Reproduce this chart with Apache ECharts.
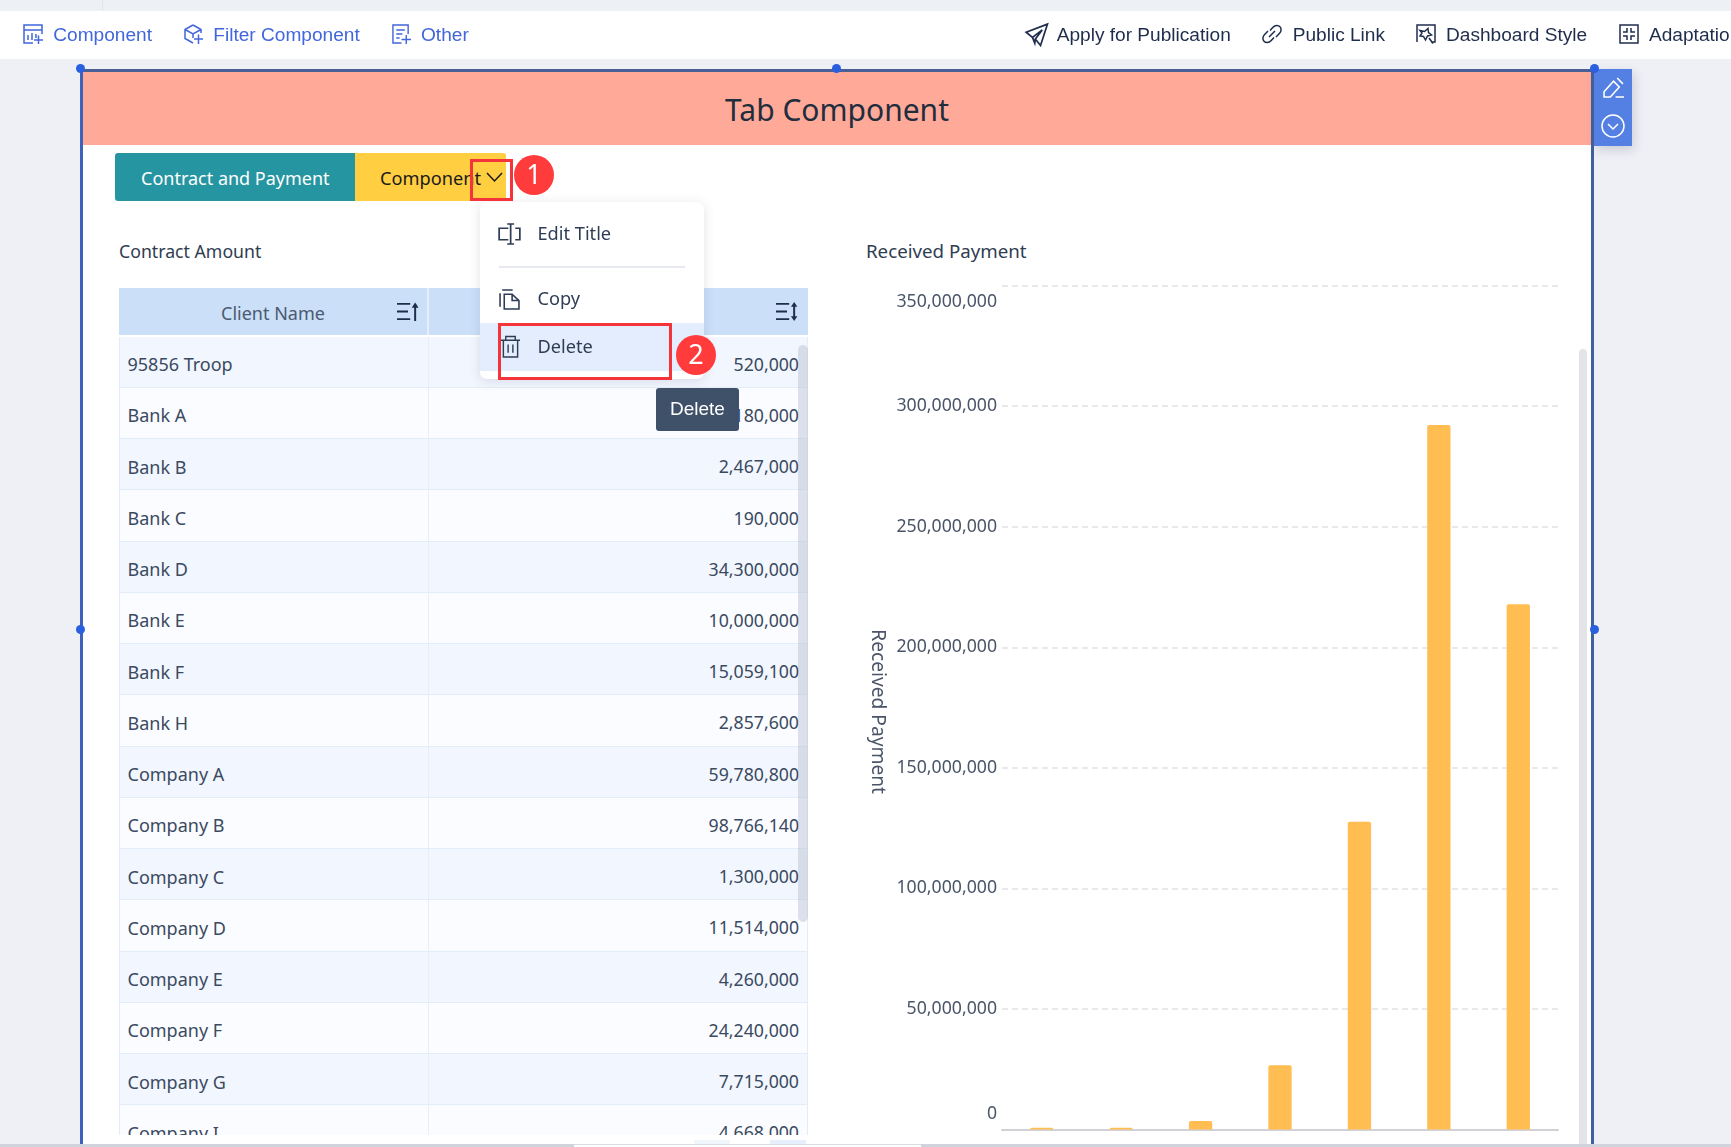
<!DOCTYPE html>
<html>
<head>
<meta charset="utf-8">
<title>Tab Component</title>
<script src="https://cdn.jsdelivr.net/npm/echarts@6/dist/echarts.min.js"></script>
<style>
  html, body { margin: 0; padding: 0; width: 1731px; height: 1147px; overflow: hidden; background: #eff0f5; }
  body { position: relative; font-family: "Noto Sans", sans-serif; font-size: 17.7px; color: #3a4a60; }
  .box, .txt, svg { position: absolute; }
  .txt { white-space: nowrap; line-height: 1; transform: translateY(-50%); }
  .tool { font-family: "Liberation Sans", sans-serif; font-size: 19.1px; color: #1f2d4d; }
  .tool.blue { color: #4266dc; }
  svg { fill: none; stroke-width: 1.5; overflow: visible; }
  #tableWrap { position: absolute; left: 119px; top: 288px; width: 690px; height: 847px; overflow: hidden; }
  .row { position: absolute; left: 0; width: 689px; box-sizing: border-box; border-bottom: 1.5px solid #e3edf9;
         border-left: 1px solid #e3edf9; border-right: 1px solid #e3edf9; }
  .row .name { position: absolute; left: 7.5px; top: calc(50% + 2.4px); transform: translateY(-50%); line-height: 1; font-size: 18px; }
  .row .amount { position: absolute; right: 8px; top: calc(50% + 3px); transform: translateY(-50%); line-height: 1; }
  .row .sep { position: absolute; left: 308px; top: 0; bottom: 0; width: 1px; background: #e6eefa; }
  .badge { position: absolute; width: 40px; height: 40px; border-radius: 50%; background: #ff3b3b; color: #fff;
           font-size: 27px; line-height: 38px; text-align: center; }
  .redrect { position: absolute; box-sizing: border-box; border: 3px solid #f5333a; }
  #chart { position: absolute; left: 0; top: 0; width: 1731px; height: 1147px; }
</style>
</head>
<body>
<div class="box" style="left:0;top:0;width:1731px;height:11px;background:#edf0f5"></div>
<div class="box" style="left:102px;top:0;width:1px;height:11px;background:#e2e5ea"></div>
<div class="box" style="left:0;top:11px;width:1731px;height:48px;background:#fff"></div>

<!-- panel -->
<div class="box" style="left:81px;top:70px;width:1513px;height:1074px;background:#fff"></div>
<div class="box" style="left:83px;top:72px;width:1508px;height:73px;background:#ffa999"></div>
<div class="box" style="left:80px;top:69px;width:3px;height:1075px;background:#3c62bb"></div>
<div class="box" style="left:1591px;top:69px;width:3px;height:1075px;background:#40619f"></div>
<div class="box" style="left:80px;top:69px;width:1514px;height:3px;background:#486096"></div>
<div class="box" style="left:1594px;top:69px;width:38px;height:77px;background:#5480e3;box-shadow:2px 4px 10px rgba(60,70,100,.2)"></div>

<div class="txt" style="left:0;width:1674px;top:110px;text-align:center;font-size:30px;color:#1f2d3d">Tab Component</div>

<!-- tabs -->
<div class="box" style="left:115px;top:153px;width:240px;height:48px;background:#2595a1;border-radius:3px 0 0 3px"></div>
<div class="box" style="left:355px;top:153px;width:151px;height:48px;background:#ffce41;border-radius:0 3px 3px 0"></div>
<div class="txt" style="left:141px;top:178px;color:#fff;font-size:18px">Contract and Payment</div>
<div class="txt" style="left:380px;top:178px;color:#1b1b1b;font-size:18.2px">Component</div>

<div class="txt" style="left:119px;top:252px;color:#2f3d52">Contract Amount</div>
<div class="txt" style="left:866px;top:251px;color:#2f3d52;font-size:18.7px">Received Payment</div>

<!-- table -->
<div id="tableWrap"></div>
<div class="box" style="left:798px;top:345px;width:10px;height:577px;background:rgba(170,180,200,.38);border-radius:5px"></div>
<div class="box" style="left:1579px;top:349px;width:8px;height:795px;background:#e3e4e8;border-radius:4px 4px 0 0"></div>

<div id="chart"></div>

<!-- footer strip -->
<div class="box" style="left:694px;top:1140px;width:36px;height:4px;background:#f1f5fc"></div>
<div class="box" style="left:770px;top:1140px;width:36px;height:4px;background:#e6effc"></div>
<div class="box" style="left:0;top:1144px;width:574px;height:3px;background:#ced3dc"></div>
<div class="box" style="left:574px;top:1144px;width:347px;height:3px;background:#fff;border-top:1px solid #d8dce3;box-sizing:border-box"></div>
<div class="box" style="left:921px;top:1144px;width:810px;height:3px;background:#ced3dc"></div>

<!-- handles -->
<div id="handles"></div>

<!-- context menu -->
<div class="box" style="left:480px;top:202px;width:224px;height:177px;background:#fff;border-radius:7px;box-shadow:0 2px 12px rgba(70,80,110,.16);overflow:hidden">
  <div class="box" style="left:0;top:121px;width:224px;height:48px;background:#e3edfd"></div>
  <div class="box" style="left:19px;top:64px;width:186px;height:1.5px;background:#e8eaf2"></div>
</div>
<div class="txt" style="left:537.5px;top:233px;color:#2e3d55;font-size:18.2px">Edit Title</div>
<div class="txt" style="left:537.5px;top:297.5px;color:#2e3d55;font-size:18.2px">Copy</div>
<div class="txt" style="left:537.5px;top:346px;color:#2e3d55;font-size:18.2px">Delete</div>

<div class="box" style="left:656px;top:388px;width:83px;height:43px;background:#3f5069;border-radius:3px"></div>
<div class="txt" style="left:670px;top:407.5px;color:#fff;font-family:'Liberation Sans',sans-serif;font-size:19px">Delete</div>

<!-- chevron under the annotation box -->
<svg style="left:486px;top:172px" width="17" height="10" viewBox="0 0 17 10" stroke="#1b1b1b" stroke-width="2.4"><path d="M1 1 L8.5 9 L16 1"/></svg>
<div class="redrect" style="left:470px;top:159px;width:43px;height:42px"></div>
<div class="badge" style="left:514px;top:155px">1</div>
<div class="redrect" style="left:498px;top:323px;width:174px;height:57px"></div>
<div class="badge" style="left:676px;top:335px">2</div>

<div id="icons"></div>

<script>
// table data
const clientNames = ['95856 Troop', 'Bank A', 'Bank B', 'Bank C', 'Bank D', 'Bank E', 'Bank F', 'Bank H',
  'Company A', 'Company B', 'Company C', 'Company D', 'Company E', 'Company F', 'Company G', 'Company I'];
const contractAmounts = [520000, 180000, 2467000, 190000, 34300000, 10000000, 15059100, 2857600,
  59780800, 98766140, 1300000, 11514000, 4260000, 24240000, 7715000, 4668000];

// chart data
const barCategories = ['A', 'B', 'C', 'D', 'E', 'F', 'G'];
const receivedPayment = [700000, 700000, 3500000, 26700000, 127600000, 292200000, 217900000];
const axisTicks = { min: 0, max: 350000000, interval: 50000000 };

// toolbar labels
const leftTools = [['Component', 53.3], ['Filter Component', 213.3], ['Other', 421]];
const rightTools = [['Apply for Publication', 1056.7], ['Public Link', 1292.7], ['Dashboard Style', 1446], ['Adaptation', 1649]];

function addToolbar() {
  leftTools.concat(rightTools).forEach((t, i) => {
    const el = document.createElement('div');
    el.className = 'txt tool' + (i < leftTools.length ? ' blue' : '');
    el.style.left = t[1] + 'px';
    el.style.top = '34.5px';
    el.textContent = t[0];
    document.body.appendChild(el);
  });
}

function addTable() {
  const wrap = document.getElementById('tableWrap');
  const head = document.createElement('div');
  head.className = 'box';
  head.style.cssText = 'left:0;top:0;width:689px;height:47px;background:#cbdff9';
  head.innerHTML = '<div class="box" style="left:308px;top:0;width:2px;height:47px;background:#e6eefa"></div>' +
    '<div class="txt" style="left:0;width:308px;text-align:center;top:25px;color:#4a5a70;font-size:18px">Client Name</div>';
  wrap.appendChild(head);
  const rowH = 51.24, top0 = 48.7;
  clientNames.forEach((name, i) => {
    const row = document.createElement('div');
    row.className = 'row';
    row.style.top = (top0 + i * rowH) + 'px';
    row.style.height = rowH + 'px';
    row.style.background = i % 2 ? '#fbfcff' : '#f2f6fe';
    row.innerHTML = '<div class="sep"></div><div class="name"></div><div class="amount"></div>';
    row.querySelector('.name').textContent = name;
    row.querySelector('.amount').textContent = contractAmounts[i].toLocaleString('en-US');
    wrap.appendChild(row);
  });
}

function addHandles() {
  const pts = [[80, 68], [836, 68], [1594, 68], [80, 629], [1594, 629]];
  document.getElementById('handles').innerHTML = pts.map(p =>
    `<div class="box" style="left:${p[0] - 4.5}px;top:${p[1] - 4.5}px;width:9px;height:9px;border-radius:50%;background:#2a5fe0"></div>`).join('');
}

function icon(x, y, w, h, color, body, sw) {
  return `<svg style="left:${x}px;top:${y}px" width="${w}" height="${h}" viewBox="0 0 20 20" preserveAspectRatio="none" stroke="${color}" stroke-width="${sw || 1.5}">${body}</svg>`;
}

function addIcons() {
  const blue = '#4266dc', dark = '#1f2d4d', menu = '#2e3d55', white = '#fff';
  const sortLines = 'M0 2H12M0 10H10M0 18H12';
  document.getElementById('icons').innerHTML = [
    icon(23, 24, 20, 20, blue, '<path d="M19 10V1H1V19H10M1 6H19M5 16V11M9 16V9M13 14V10M11 16H20M15.5 11.5V20"/>'),
    icon(183, 24, 20, 20, blue, '<path d="M10 1L18 5.5V9M10 1L2 5.5V14.5L10 19M2 5.5L10 10L18 5.5M10 10V14M11 15H20M15.5 10.5V20"/>'),
    icon(392, 24, 19, 20, blue, '<path d="M10 19H1V1H17V10M4.5 6H13.5M4.5 10H11M4.5 14H8M10 15.5H20M15 11V20"/>'),
    icon(1025, 23, 23, 23, dark, '<path d="M19.5 1L1 8L6.5 12.5L15 6L9 14L13.5 19.5ZM6.5 12.5L8.5 17.5L9 14"/>'),
    icon(1262, 24, 20, 20, dark, '<path d="M8 6.5L11 3.2C13 1 16.5 1 18 2.8C19.7 4.5 19.3 7.5 17.6 9.2L14 13M12 13.5L9 16.8C7 19 3.6 19 2 17.2C.3 15.5 .7 12.5 2.4 10.8L6 7M7 13L13 7"/>'),
    icon(1416, 24, 20, 20, dark, '<path d="M1 18V1H19V18H15M4 6.5L8.5 7.5L12 4.5L12.5 8.5L15.5 11L11.5 12L9.5 16L7.5 12.5L4 12L6 9ZM13 14L17 19.5"/>'),
    icon(1619, 24, 20, 20, dark, '<rect x="1" y="1" width="18" height="18"/><path d="M8 4V8H4M12 4V8H16M8 16V12H4M12 16V12H16"/>'),
    icon(1603, 77, 21, 21, white, '<path d="M3 19H1V14L10 4L15.5 9.5L7 19ZM13.5 1L19 6.5M12 19H20"/>', 1.8),
    '<svg style="left:1601px;top:114px" width="24" height="24" viewBox="0 0 24 24" stroke="#fff" stroke-width="1.8"><circle cx="12" cy="12" r="11"/><path d="M7 10L12 15L17 10"/></svg>',
    icon(497.5, 223, 23, 21, menu, '<path d="M9 5H1V16H9M15 5H19V16H15M8 1H14M8 20H14M11 1V20"/>', 1.7),
    icon(499, 289, 21, 21, menu, '<path d="M3 1H13M1 4V17M5 19V5H12.5L19 11V19ZM12.5 5V11H19"/>', 1.6),
    icon(500.5, 336, 19, 21, menu, '<path d="M0 4H20M5 4V0.5H15V4M2.5 4V20H17.5V4M7.5 8V16M12.5 8V16"/>', 1.5),
    icon(396.5, 302, 22, 19, dark, `<path d="${sortLines}" stroke-width="2"/><path d="M16.5 20V2" stroke-width="1.8"/><path d="M16.5 .5L19.6 6H13.4Z" fill="${dark}" stroke="none"/>`),
    icon(776, 302, 22, 19, dark, `<path d="${sortLines}" stroke-width="2"/><path d="M16.5 2V18" stroke-width="1.8"/><path d="M16.5 0L19.4 5H13.6Z" fill="${dark}" stroke="none"/><path d="M16.5 20L19.4 15H13.6Z" fill="${dark}" stroke="none"/>`)
  ].join('');
}

function renderChart() {
  const chart = echarts.init(document.getElementById('chart'), null, { renderer: 'canvas' });
  chart.setOption({
    backgroundColor: 'transparent',
    animation: false,
    textStyle: { fontFamily: '"Noto Sans", sans-serif' },
    grid: { left: 1002, top: 285.7, width: 556, height: 843.8 },
    xAxis: {
      type: 'category',
      data: barCategories,
      axisTick: { show: false },
      axisLabel: { show: false },
      axisLine: { lineStyle: { color: '#d2d2d6', width: 2 } },
    },
    yAxis: {
      type: 'value',
      min: axisTicks.min, max: axisTicks.max, interval: axisTicks.interval,
      name: 'Received Payment',
      nameLocation: 'middle',
      nameRotate: -90,
      nameGap: 125,
      nameTextStyle: { color: '#4a5568', fontSize: 19.2, verticalAlign: 'middle', padding: [0, 0, 0, 8] },
      axisLine: { show: false },
      axisTick: { show: false },
      axisLabel: {
        color: '#4a5568', fontSize: 17.7, margin: 5, lineHeight: 32,
        formatter: v => v.toLocaleString('en-US'),
        verticalAlignMinLabel: 'bottom',
        verticalAlignMaxLabel: 'top',
      },
      splitLine: { lineStyle: { color: '#e9e9ec', width: 2, type: [6, 4] } },
    },
    series: [{
      type: 'bar',
      data: receivedPayment,
      barWidth: 23.3,
      itemStyle: { color: '#ffbd52', borderRadius: [2, 2, 0, 0] },
    }],
  });
}

addToolbar();
addTable();
addHandles();
addIcons();
renderChart();
</script>
</body>
</html>
